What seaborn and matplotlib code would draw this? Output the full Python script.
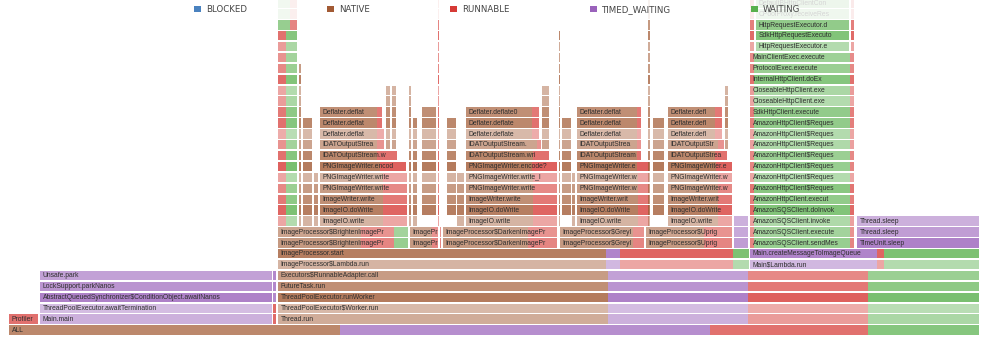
import matplotlib
matplotlib.use("Agg")
import matplotlib.pyplot as plt
import matplotlib.colors as mcolors
from matplotlib.patches import Patch, Rectangle
import pandas as pd
import seaborn as sns

# ---------------- data ----------------
STATES = ["BLOCKED", "NATIVE", "RUNNABLE", "TIMED_WAITING", "WAITING"]
STATE_CODES = ["B", "N", "R", "T", "W"]
STATE_HEX = ["#4a82bf", "#a25a34", "#d63a36", "#9a62bb", "#58b04c"]

# (depth, start sample, [(state, samples), ...], shade, label)
root_frames = [
    (0, 9, [("N", 331), ("T", 370), ("R", 158), ("W", 112)], 0.72, "ALL"),
    (1, 9, [("R", 30)], 0.72, "Profiler"),
]

main_labels = ["Main.main", "ThreadPoolExecutor.awaitTermination",
               "AbstractQueuedSynchronizer$ConditionObject.awaitNanos",
               "LockSupport.parkNanos", "Unsafe.park"]
main_shades = [0.5, 0.42, 0.8, 0.68, 0.6]
main_start = 40
main_samples = 233
main_tail_states = ["R", "R", "T", "T", "T"]
main_tail_samples = 4

worker_labels = ["Thread.run", "ThreadPoolExecutor$Worker.run",
                 "ThreadPoolExecutor.runWorker", "FutureTask.run",
                 "Executors$RunnableAdapter.call"]
worker_shades = [0.5, 0.42, 0.8, 0.68, 0.6]
worker_start = 278
worker_segments = [("N", 330), ("T", 140), ("R", 120), ("W", 112)]

task_frames = [
    (6, 278, [("N", 328), ("T", 14), ("R", 113), ("W", 17)], 0.45, "ImageProcessor$Lambda.run"),
    (6, 750, [("T", 127), ("R", 7), ("W", 96)], 0.45, "Main$Lambda.run"),
    (7, 278, [("N", 328), ("T", 14), ("R", 113), ("W", 17)], 0.78, "ImageProcessor.start"),
    (7, 750, [("T", 127), ("R", 7), ("W", 96)], 0.78, "Main.createMessageToImageQueue"),
]

# frames repeated on depths 8 and 9
image_call_frames = [
    (278, [("N", 83), ("R", 33), ("W", 15)], "ImageProcessor$BrightenImagePr"),
    (410, [("N", 22), ("R", 7)], "ImagePr"),
    (440, [("R", 2)], ""),
    (443, [("N", 85), ("R", 30)], "ImageProcessor$DarkenImagePr"),
    (560, [("N", 73), ("R", 12)], "ImageProcessor$GreyI"),
    (646, [("N", 58), ("R", 29)], "ImageProcessor$Uprig"),
    (734, [("T", 15)], ""),
]
image_call_depths = [8, 9]
image_call_shades = [0.62, 0.55]

sqs_labels = ["AmazonSQSClient.sendMes", "AmazonSQSClient.execute", "AmazonSQSClient.invoke",
              "AmazonSQSClient.doInvok", "AmazonHttpClient.execut",
              "AmazonHttpClient$Reques", "AmazonHttpClient$Reques", "AmazonHttpClient$Reques",
              "AmazonHttpClient$Reques", "AmazonHttpClient$Reques", "AmazonHttpClient$Reques",
              "AmazonHttpClient$Reques", "SdkHttpClient.execute", "CloseableHttpClient.exe",
              "CloseableHttpClient.exe", "InternalHttpClient.doEx", "ProtocolExec.execute",
              "MainClientExec.execute", "HttpRequestExecutor.e", "SdkHttpRequestExecuto",
              "HttpRequestExecutor.d", "CPoolProxy.receiveRes", "DefaultBHttpClientCon"]
sqs_shades = [0.62, 0.55, 0.48, 0.75, 0.65, 0.7, 0.45, 0.62, 0.6, 0.48, 0.45, 0.65,
              0.65, 0.45, 0.5, 0.72, 0.6, 0.58, 0.45, 0.75, 0.65, 0.45, 0.5]
sqs_start = 750
sqs_segments = [("R", 4), ("W", 96), ("R", 5)]
sqs_inner_frames = [(750, [("R", 5)]), (756, [("W", 94)]), (851, [("R", 4)])]
sqs_inner_from_depth = 26

sleep_labels = ["TimeUnit.sleep", "Thread.sleep", "Thread.sleep"]
sleep_shades = [0.8, 0.62, 0.5]
sleep_start = 857
sleep_samples = 123

# PNG encoding stacks, depths 10..20: (native, runnable) samples per depth
stack_starts = [320, 466, 577, 668]
stack_samples = [
    [(63, 25), (63, 25), (63, 25), (63, 25), (63, 25), (60, 27), (57, 21), (57, 8), (57, 8), (57, 6), (57, 6)],
    [(67, 25), (67, 25), (67, 25), (67, 25), (67, 25), (66, 26), (67, 17), (71, 5), (66, 8), (66, 8), (66, 8)],
    [(61, 12), (61, 12), (61, 12), (61, 12), (61, 12), (60, 13), (60, 5), (60, 5), (60, 5), (60, 5), (60, 5)],
    [(50, 15), (50, 15), (50, 15), (50, 15), (50, 15), (48, 17), (47, 13), (50, 7), (47, 8), (47, 8), (47, 8)],
]
stack_labels = [
    ["ImageIO.write", "ImageIO.doWrite", "ImageWriter.write", "PNGImageWriter.write",
     "PNGImageWriter.write", "PNGImageWriter.encod", "IDATOutputStream.w", "IDATOutputStrea",
     "Deflater.deflat", "Deflater.deflat", "Deflater.deflat"],
    ["ImageIO.write", "ImageIO.doWrite", "ImageWriter.write", "PNGImageWriter.write",
     "PNGImageWriter.write_I", "PNGImageWriter.encode?", "IDATOutputStream.wri", "IDATOutputStream.",
     "Deflater.deflate", "Deflater.deflate", "Deflater.deflate0"],
    ["ImageIO.write", "ImageIO.doWrite", "ImageWriter.writ", "PNGImageWriter.w",
     "PNGImageWriter.w", "PNGImageWriter.e", "IDATOutputStream", "IDATOutputStrea",
     "Deflater.deflat", "Deflater.deflat", "Deflater.deflat"],
    ["ImageIO.write", "ImageIO.doWrite", "ImageWriter.writ", "PNGImageWriter.w",
     "PNGImageWriter.w", "PNGImageWriter.e", "IDATOutputStrea", "IDATOutputStr",
     "Deflater.defl", "Deflater.defl", "Deflater.defl"],
]
upper_shades = [0.45, 0.78, 0.68, 0.6, 0.45, 0.8, 0.72, 0.55, 0.42, 0.72, 0.68,
                0.5, 0.45, 0.75, 0.6, 0.55, 0.5, 0.72, 0.62, 0.4, 0.4]  # depths 10..30

# narrow unlabeled stacks: (start, samples, lowest depth, highest depth, state)
towers = [
    (299, 3, 10, 24, "N"), (303, 10, 10, 19, "N"), (314, 5, 10, 14, "N"),
    (386, 5, 17, 22, "N"), (392, 5, 17, 22, "N"),
    (409, 3, 10, 22, "N"), (413, 5, 10, 19, "N"), (422, 15, 11, 20, "N"),
    (438, 2, 10, 30, "R"), (447, 10, 11, 19, "N"), (457, 8, 10, 14, "N"),
    (542, 8, 17, 22, "N"), (559, 2, 10, 27, "N"), (562, 10, 11, 19, "N"), (572, 4, 10, 14, "N"),
    (648, 3, 10, 30, "N"), (653, 12, 11, 19, "N"), (725, 4, 17, 22, "N"),
]
hot_column_start = 278
hot_column_segments = [("R", 8), ("W", 12)]
hot_column_depths = (10, 30)
extra_frames = [(10, 734, [("T", 15)], 0.5, "")]

# ---------------- assemble ----------------
frames = list(root_frames)
for i, lab in enumerate(main_labels):
    frames.append((i + 1, main_start, [("T", main_samples)], main_shades[i], lab))
    frames.append((i + 1, main_start + main_samples, [(main_tail_states[i], main_tail_samples)], 0.75, ""))
for i, lab in enumerate(worker_labels):
    frames.append((i + 1, worker_start, worker_segments, worker_shades[i], lab))
frames += task_frames
for d, sh in zip(image_call_depths, image_call_shades):
    for x0, segs, lab in image_call_frames:
        frames.append((d, x0, segs, sh, lab))
for i, lab in enumerate(sqs_labels):
    d = 8 + i
    if d >= sqs_inner_from_depth:
        for x0, segs in sqs_inner_frames:
            frames.append((d, x0, segs, sqs_shades[i], lab if segs[0][0] == "W" else ""))
    else:
        frames.append((d, sqs_start, sqs_segments, sqs_shades[i], lab))
for i, lab in enumerate(sleep_labels):
    frames.append((8 + i, sleep_start, [("T", sleep_samples)], sleep_shades[i], lab))
for x0, samples, labels in zip(stack_starts, stack_samples, stack_labels):
    for j, ((n, r), lab) in enumerate(zip(samples, labels)):
        frames.append((10 + j, x0, [("N", n), ("R", r)], upper_shades[j], lab))
for x0, w, lo, hi, st in towers:
    for d in range(lo, hi + 1):
        frames.append((d, x0, [(st, w)], upper_shades[d - 10], ""))
for d in range(hot_column_depths[0], hot_column_depths[1] + 1):
    segs = hot_column_segments if d < hot_column_depths[1] - 2 else hot_column_segments[::-1]
    frames.append((d, hot_column_start, segs, upper_shades[d - 10], ""))
frames += extra_frames

GAP = 1.0
seg_rows, label_rows = [], []
for depth, x0, segs, shade, label in frames:
    x = x0
    total = sum(w for _, w in segs)
    for k, (st, w) in enumerate(segs):
        ww = w - GAP if k == len(segs) - 1 else w
        seg_rows.append(dict(depth=depth, left=x, width=max(ww, 0.6), state=st, shade=shade))
        x += w
    if label:
        label_rows.append(dict(depth=depth, left=x0, width=total - GAP, label=label))
seg_df = pd.DataFrame(seg_rows)
lab_df = pd.DataFrame(label_rows)

# ---------------- draw ----------------
sns.set_theme(style="white")
plt.rcParams["font.family"] = ["DejaVu Sans"]
color_of = dict(zip(STATE_CODES, STATE_HEX))

fig = plt.figure(figsize=(9.91, 3.37), dpi=100)
ax = fig.add_axes([0, 0, 1, 1])
colors = [mcolors.to_rgba(color_of[s], a) for s, a in zip(seg_df.state, seg_df.shade)]
ax.barh(seg_df.depth, seg_df.width, left=seg_df.left, height=0.86,
        color=colors, linewidth=0, align="center")

for _, r in lab_df.iterrows():
    clip = Rectangle((r.left, r.depth - 0.5), r.width, 1, transform=ax.transData)
    t = ax.text(r.left + 2.5, r.depth - 0.02, r.label, fontsize=4.9, va="center", ha="left",
                color="#2e2e2e", family=["Liberation Sans", "DejaVu Sans"], clip_on=True,
                zorder=3)
    t.set_clip_path(clip)

ax.set_xlim(0, 991)
ax.set_ylim(-0.64, 30.28)
ax.axis("off")

ax.add_patch(Rectangle((0, 1 - 20 / 337), 1, 20 / 337, transform=ax.transAxes,
                       facecolor="white", alpha=0.8, edgecolor="none", zorder=5))
handles = [Patch(facecolor=c, edgecolor="none") for c in STATE_HEX]
leg = ax.legend(handles, STATES, ncol=5, loc="upper left",
                bbox_to_anchor=(194 / 991, 1 - 5 / 337), frameon=False, fontsize=6.2,
                handlelength=0.85, handleheight=0.85, handletextpad=0.55,
                columnspacing=9.3, borderpad=0, borderaxespad=0)
for txt in leg.get_texts():
    txt.set_color("#444444")
leg.set_zorder(6)

fig.savefig("out.png", dpi=100)
